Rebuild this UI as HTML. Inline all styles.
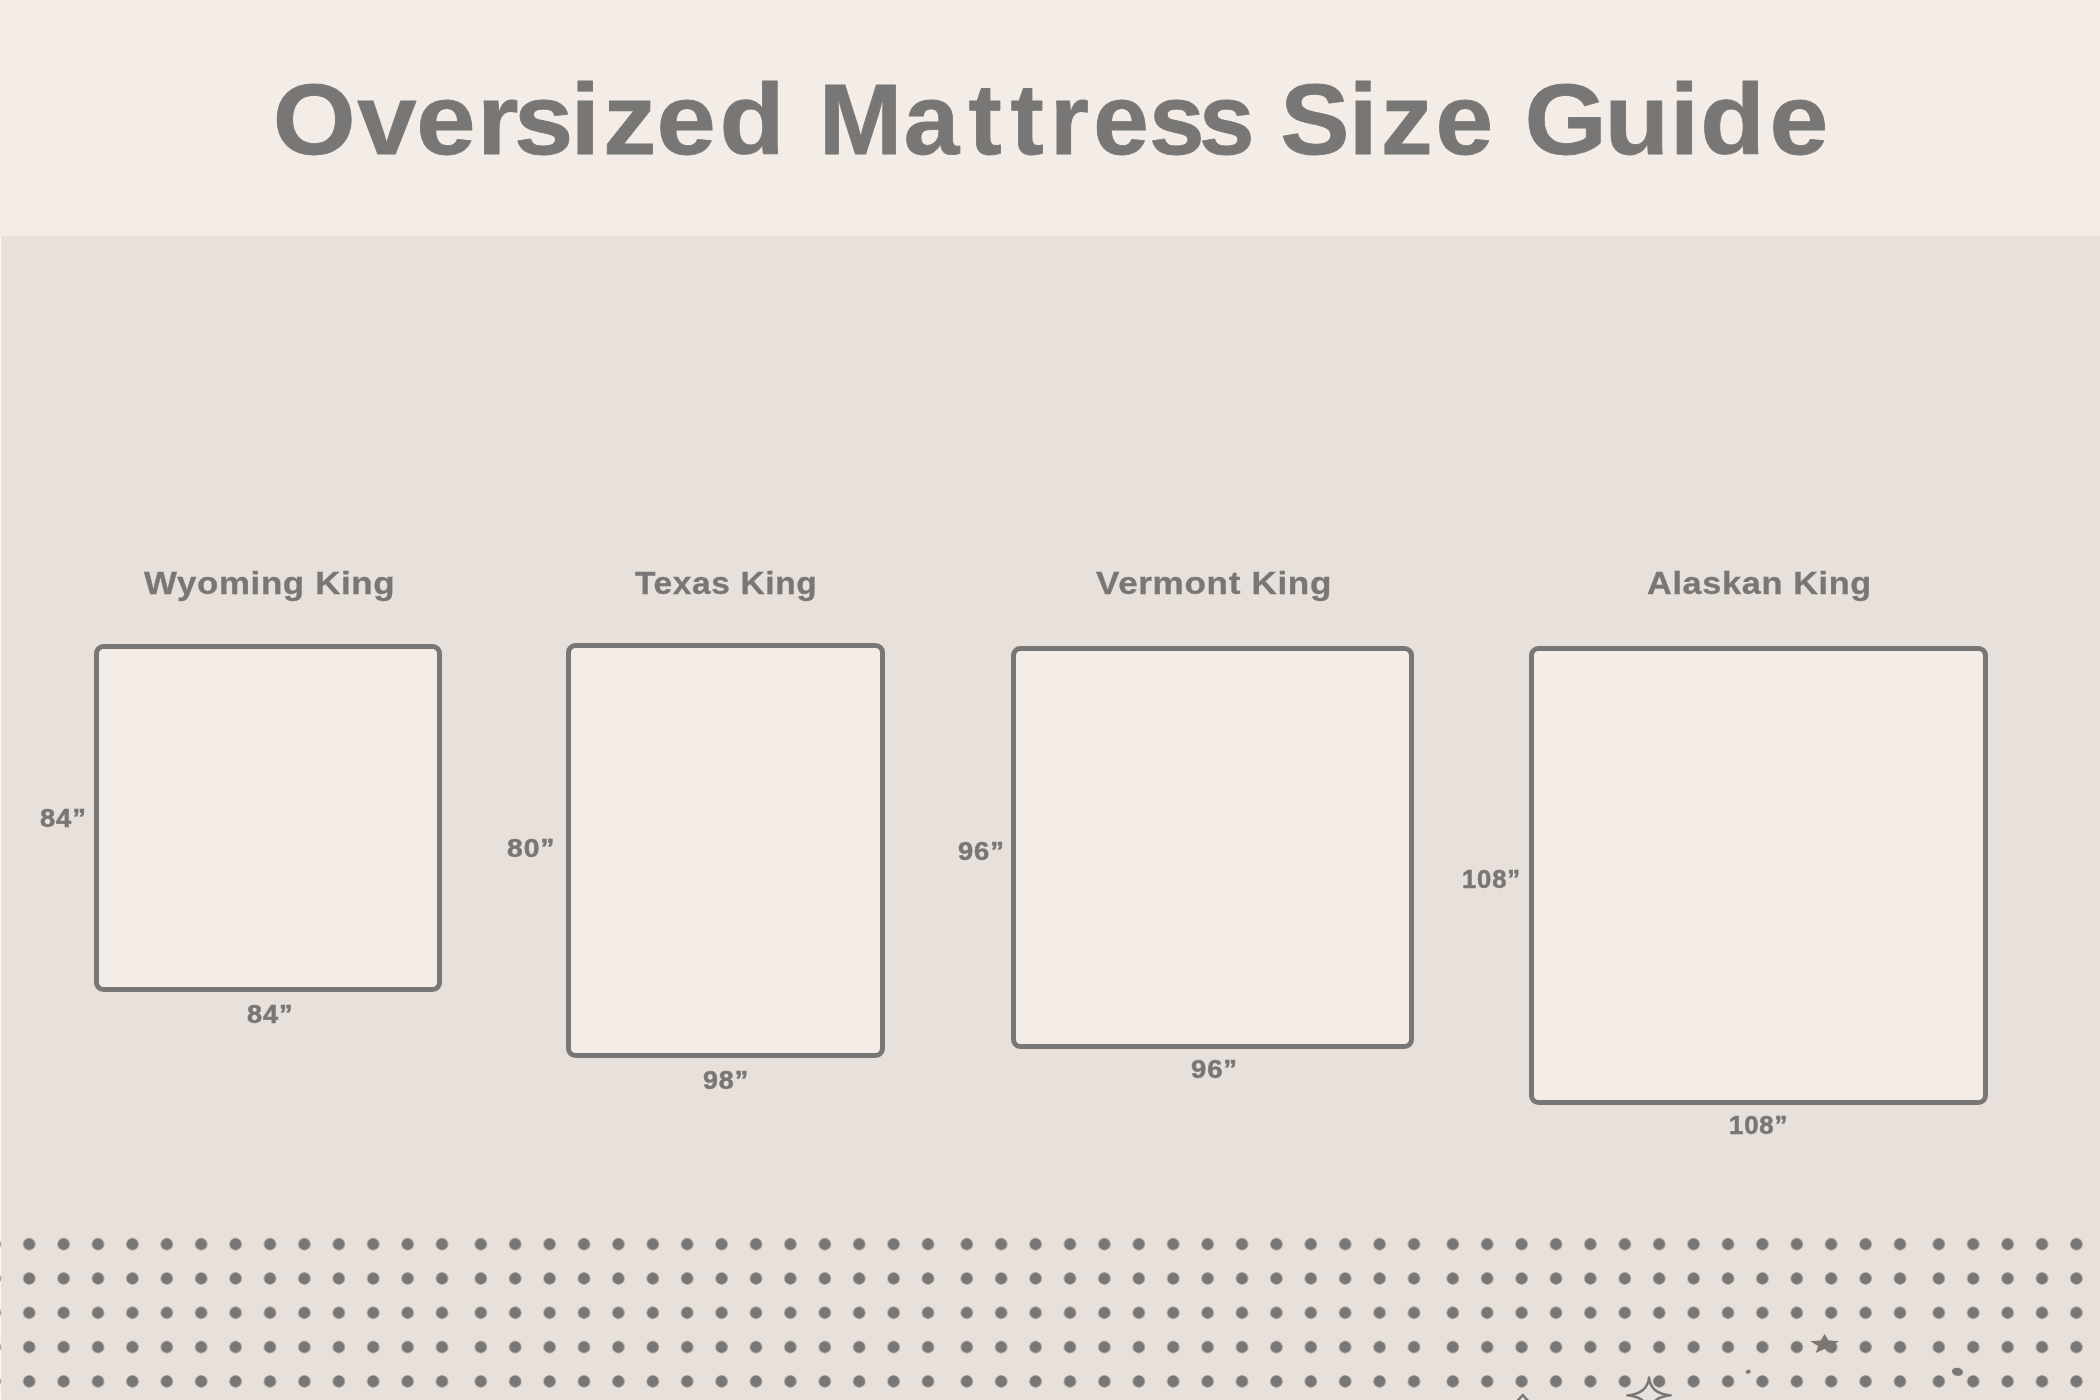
<!DOCTYPE html>
<html lang="en">
<head>
<meta charset="utf-8">
<title>Oversized Mattress Size Guide</title>
<style>
html,body{margin:0;padding:0}
body{width:2100px;height:1400px;overflow:hidden;background:#f4ece6;position:relative;font-family:"Liberation Sans",sans-serif;color:#787776}
.stage{position:absolute;left:0;top:0;width:2100px;height:1400px;overflow:hidden;background:#f4ece6}
.band{position:absolute;left:0;top:236px;width:2100px;height:1164px;background:#e8e0da}
.edge{position:absolute;left:0;top:237px;width:1px;height:1163px;background:#fbf8f4}
.box{position:absolute;box-sizing:border-box;border:5px solid #787776;border-radius:9.5px;background:#f4ece7}
.t{position:absolute;white-space:nowrap;font-weight:bold;line-height:1;transform-origin:0 0;color:#787776;margin:0}
svg.deco{position:absolute;left:0;top:0}
main,figure{margin:0;padding:0;display:block}
.s{will-change:transform}
.d{-webkit-text-stroke:0.5px #787776}
.n{-webkit-text-stroke:0.3px #787776}
h1.title{margin:0;padding:0;font-size:0;line-height:0;position:absolute;left:0;top:0}
</style>
</head>
<body>
<div class="stage">
<div class="band"></div>
<div class="edge"></div>
<svg class="deco" width="2100" height="1400" viewBox="0 0 2100 1400">
<defs><pattern id="dots" x="-22.40" y="1227.05" width="486.0" height="34.3" patternUnits="userSpaceOnUse"><g fill="#787776"><circle cx="17.20" cy="17.15" r="6.05"/><circle cx="51.60" cy="17.15" r="6.05"/><circle cx="86.00" cy="17.15" r="6.05"/><circle cx="120.40" cy="17.15" r="6.05"/><circle cx="154.80" cy="17.15" r="6.05"/><circle cx="189.20" cy="17.15" r="6.05"/><circle cx="223.60" cy="17.15" r="6.05"/><circle cx="258.00" cy="17.15" r="6.05"/><circle cx="292.40" cy="17.15" r="6.05"/><circle cx="326.80" cy="17.15" r="6.05"/><circle cx="361.20" cy="17.15" r="6.05"/><circle cx="395.60" cy="17.15" r="6.05"/><circle cx="430.00" cy="17.15" r="6.05"/><circle cx="464.40" cy="17.15" r="6.05"/></g></pattern></defs>
<rect x="0" y="1227.05" width="2100" height="172.95" fill="url(#dots)"/>
<polygon points="1824.6,1333.9 1828.6,1340.6 1839.0,1341.2 1831.1,1345.9 1833.5,1352.9 1824.6,1349.1 1815.7,1352.9 1818.1,1345.9 1810.2,1341.2 1820.6,1340.6" fill="#7c7773"/>
<path d="M1649.0,1377.4 Q1650.5,1393.9 1670.7,1395.4 Q1650.5,1396.9 1649.0,1413.4 Q1647.5,1396.9 1627.3,1395.4 Q1647.5,1393.9 1649.0,1377.4Z" fill="none" stroke="#787776" stroke-width="2.4" stroke-linejoin="round"/>
<path d="M1516.5,1402 L1522.8,1395 L1529,1402" fill="none" stroke="#787776" stroke-width="2.6" stroke-linejoin="round"/>
<ellipse cx="1748.2" cy="1371.8" rx="2.6" ry="1.8" transform="rotate(-20 1748.2 1371.8)" fill="#787776"/>
<ellipse cx="1957.5" cy="1371.8" rx="5.6" ry="4" transform="rotate(10 1957.5 1371.8)" fill="#7c7773"/>
</svg>
<h1 class="title"><svg class="deco" width="2100" height="236" viewBox="0 0 2100 236"><g fill="#787776" font-family="Liberation Sans, sans-serif" font-weight="bold" font-size="98" stroke="#787776" stroke-width="0.8" stroke-linejoin="round">
<text transform="translate(0 154.2) scale(1.0883 1.025)" x="250.66 328.28 382.40 438.34 472.27 524.26 553.97 603.30 661.15" y="0">Oversized</text>
<text transform="translate(0 154.2) scale(1.0193 1.025)" x="803.43 886.54 950.07 991.37 1030.22 1072.49 1127.28 1176.28" y="0">Mattress</text>
<text transform="translate(0 154.2) scale(1.0598 1.025)" x="1207.93 1272.75 1302.89 1354.48" y="0">Size</text>
<text transform="translate(0 154.2) scale(1.0802 1.025)" x="1411.34 1485.49 1545.87 1574.12 1638.10" y="0">Guide</text>
</g></svg></h1>
<main>
<figure class="bed">
<figcaption class="t s n" style="left:143.6px;top:567.4px;font-size:32px;letter-spacing:0.6px;transform-origin:0 27.0px;transform:scaleX(1.0895)">Wyoming King</figcaption>
<div class="box" style="left:94px;top:644px;width:348px;height:348px"></div>
<span class="t s d" style="left:40.0px;top:805.9px;font-size:25px;letter-spacing:0.8px;transform-origin:0 21.0px;transform:scaleX(1.0927)">84”</span>
<span class="t s d" style="left:246.9px;top:1002.1px;font-size:25px;letter-spacing:0.8px;transform-origin:0 21.0px;transform:scaleX(1.0854)">84”</span>
</figure>
<figure class="bed">
<figcaption class="t s n" style="left:635.0px;top:567.4px;font-size:32px;letter-spacing:0.6px;transform-origin:0 27.0px;transform:scaleX(1.0465)">Texas King</figcaption>
<div class="box" style="left:566px;top:643px;width:319px;height:415px"></div>
<span class="t s d" style="left:506.7px;top:835.9px;font-size:25px;letter-spacing:0.8px;transform-origin:0 21.0px;transform:scaleX(1.1317)">80”</span>
<span class="t s d" style="left:703.3px;top:1067.8px;font-size:25px;letter-spacing:0.8px;transform-origin:0 21.0px;transform:scaleX(1.0756)">98”</span>
</figure>
<figure class="bed">
<figcaption class="t s n" style="left:1096.1px;top:567.4px;font-size:32px;letter-spacing:0.6px;transform-origin:0 27.0px;transform:scaleX(1.0967)">Vermont King</figcaption>
<div class="box" style="left:1011px;top:646px;width:403px;height:403px"></div>
<span class="t s d" style="left:958.3px;top:838.8px;font-size:25px;letter-spacing:0.8px;transform-origin:0 21.0px;transform:scaleX(1.0927)">96”</span>
<span class="t s d" style="left:1190.5px;top:1056.9px;font-size:25px;letter-spacing:0.8px;transform-origin:0 21.0px;transform:scaleX(1.0976)">96”</span>
</figure>
<figure class="bed">
<figcaption class="t s n" style="left:1646.83px;top:567.4px;font-size:32px;letter-spacing:0.6px;transform-origin:0 27.0px;transform:scaleX(1.0715)">Alaskan King</figcaption>
<div class="box" style="left:1529px;top:646px;width:459px;height:459px"></div>
<span class="t s d" style="left:1461.87px;top:867.1px;font-size:25px;letter-spacing:0.8px;transform-origin:0 21.0px;transform:scaleX(1.0255)">108”</span>
<span class="t s d" style="left:1728.97px;top:1112.8px;font-size:25px;letter-spacing:0.8px;transform-origin:0 21.0px;transform:scaleX(1.0309)">108”</span>
</figure>
</main>
</div>
</body>
</html>
